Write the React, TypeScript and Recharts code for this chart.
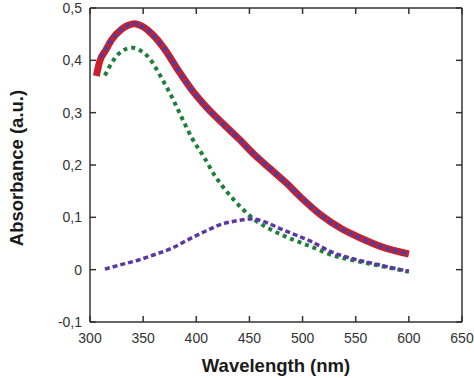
import React from 'react';
import { LineChart, Line, XAxis, YAxis, Label } from 'recharts';

const wavelengthTicks = [300, 350, 400, 450, 500, 550, 600, 650];
const absorbanceTicks = [-0.1, 0, 0.1, 0.2, 0.3, 0.4, 0.5];

const measuredWl = [306, 309, 315, 320, 330, 336, 342, 350, 358, 370, 383, 396, 408, 424, 440, 455, 470, 485, 498, 517, 536, 555, 574, 600];
const measuredAbs = [0.37, 0.397, 0.42, 0.438, 0.46, 0.467, 0.47, 0.464, 0.451, 0.422, 0.381, 0.343, 0.314, 0.281, 0.25, 0.219, 0.192, 0.165, 0.139, 0.105, 0.079, 0.06, 0.044, 0.03];

const fitWl = [310, 315, 320, 330, 336, 342, 350, 358, 370, 383, 396, 408, 424, 440, 455, 470, 485, 498, 517, 536, 555, 574, 600];
const fitAbs = [0.405, 0.422, 0.438, 0.46, 0.467, 0.47, 0.464, 0.451, 0.422, 0.381, 0.343, 0.314, 0.281, 0.25, 0.219, 0.192, 0.165, 0.139, 0.105, 0.079, 0.06, 0.044, 0.03];

const band1Wl = [314, 323, 331, 340, 348, 355, 366, 377, 386, 396, 407, 418, 430, 443, 455, 468, 489, 508, 526, 552, 576, 600];
const band1Abs = [0.371, 0.403, 0.419, 0.424, 0.418, 0.406, 0.371, 0.33, 0.292, 0.251, 0.216, 0.178, 0.146, 0.117, 0.095, 0.079, 0.059, 0.044, 0.029, 0.016, 0.006, -0.004];

const band2Wl = [314, 330, 345, 361, 377, 392, 408, 424, 440, 452, 465, 477, 490, 508, 526, 545, 564, 583, 600];
const band2Abs = [0.001, 0.01, 0.018, 0.029, 0.041, 0.057, 0.073, 0.087, 0.094, 0.097, 0.091, 0.08, 0.069, 0.054, 0.035, 0.022, 0.013, 0.004, -0.003];

const toPoints = (xs: number[], ys: number[]) => xs.map((x, i) => ({ x, y: ys[i] }));

const measured = toPoints(measuredWl, measuredAbs);
const fit = toPoints(fitWl, fitAbs);
const band1 = toPoints(band1Wl, band1Abs);
const band2 = toPoints(band2Wl, band2Abs);

const FONT = 'Liberation Sans, Arial, sans-serif';
const AXIS = '#333333';

const fmtY = (v: number) => (Math.abs(v) < 1e-9 ? '0' : v.toFixed(1).replace('.', ','));

const LeftTick = (p: any) => (
  <g>
    <line x1={p.x} x2={p.x + 6} y1={p.y} y2={p.y} stroke={AXIS} strokeWidth={1.5} />
    <text x={p.x - 8} y={p.y} dy={5} textAnchor="end" fontSize={14} fontFamily={FONT} fill="#333">
      {fmtY(p.payload.value)}
    </text>
  </g>
);

const RightTick = (p: any) => (
  <line x1={p.x} x2={p.x - 6} y1={p.y} y2={p.y} stroke={AXIS} strokeWidth={1.5} />
);

const BottomTick = (p: any) => (
  <g>
    <line x1={p.x} x2={p.x} y1={p.y} y2={p.y - 6} stroke={AXIS} strokeWidth={1.5} />
    <text x={p.x} y={p.y + 21} textAnchor="middle" fontSize={14} fontFamily={FONT} fill="#333">
      {p.payload.value}
    </text>
  </g>
);

const TopTick = (p: any) => (
  <line x1={p.x} x2={p.x} y1={p.y} y2={p.y + 6} stroke={AXIS} strokeWidth={1.5} />
);

export default function App() {
  return (
    <div style={{ position: 'absolute', left: 0, top: 0, background: '#fff' }}>
      <LineChart width={474} height={378} margin={{ top: 7, right: 11, bottom: 0, left: 0 }}>
        <XAxis
          xAxisId={0}
          dataKey="x"
          type="number"
          domain={[300, 650]}
          ticks={wavelengthTicks}
          interval={0}
          height={56}
          tickSize={0}
          tickMargin={0}
          tickLine={false}
          tick={BottomTick}
          axisLine={{ stroke: AXIS, strokeWidth: 1.5 }}
          allowDataOverflow
        >
          <Label
            content={(lp: any) => (
              <text
                x={lp.viewBox.x + lp.viewBox.width / 2}
                y={372}
                textAnchor="middle"
                fontSize={18.5}
                fontWeight="bold"
                fontFamily={FONT}
                fill="#1a1a1a"
              >
                Wavelength (nm)
              </text>
            )}
          />
        </XAxis>
        <XAxis
          xAxisId="top"
          orientation="top"
          dataKey="x"
          type="number"
          domain={[300, 650]}
          ticks={wavelengthTicks}
          interval={0}
          height={1}
          tickSize={0}
          tickMargin={0}
          tickLine={false}
          tick={TopTick}
          axisLine={{ stroke: AXIS, strokeWidth: 1.5 }}
          allowDataOverflow
        />
        <YAxis
          yAxisId={0}
          type="number"
          domain={[-0.1, 0.5]}
          ticks={absorbanceTicks}
          interval={0}
          width={90}
          tickSize={0}
          tickMargin={0}
          tickLine={false}
          tick={LeftTick}
          axisLine={{ stroke: AXIS, strokeWidth: 1.5 }}
          allowDataOverflow
        >
          <Label
            content={(lp: any) => {
              const cx = 23;
              const cy = lp.viewBox.y + lp.viewBox.height / 2 + 3;
              return (
                <text
                  x={cx}
                  y={cy}
                  transform={`rotate(-90 ${cx} ${cy})`}
                  textAnchor="middle"
                  fontSize={18.5}
                  fontWeight="bold"
                  fontFamily={FONT}
                  fill="#1a1a1a"
                >
                  Absorbance (a.u.)
                </text>
              );
            }}
          />
        </YAxis>
        <YAxis
          yAxisId="right"
          orientation="right"
          type="number"
          domain={[-0.1, 0.5]}
          ticks={absorbanceTicks}
          interval={0}
          width={1}
          tickSize={0}
          tickMargin={0}
          tickLine={false}
          tick={RightTick}
          axisLine={{ stroke: AXIS, strokeWidth: 1.5 }}
          allowDataOverflow
        />
        <Line
          data={measured}
          dataKey="y"
          type="monotone"
          stroke="#c8202c"
          strokeWidth={7}
          dot={false}
          isAnimationActive={false}
        />
        <Line
          data={fit}
          dataKey="y"
          type="monotone"
          stroke="#4a3ea8"
          strokeWidth={3.5}
          strokeDasharray="5 3"
          dot={false}
          isAnimationActive={false}
        />
        <Line
          data={band1}
          dataKey="y"
          type="monotone"
          stroke="#1f7f3a"
          strokeWidth={4}
          strokeDasharray="4 4"
          dot={false}
          isAnimationActive={false}
        />
        <Line
          data={band2}
          dataKey="y"
          type="monotone"
          stroke="#5a36a6"
          strokeWidth={3.5}
          strokeDasharray="5 3"
          dot={false}
          isAnimationActive={false}
        />
      </LineChart>
    </div>
  );
}
